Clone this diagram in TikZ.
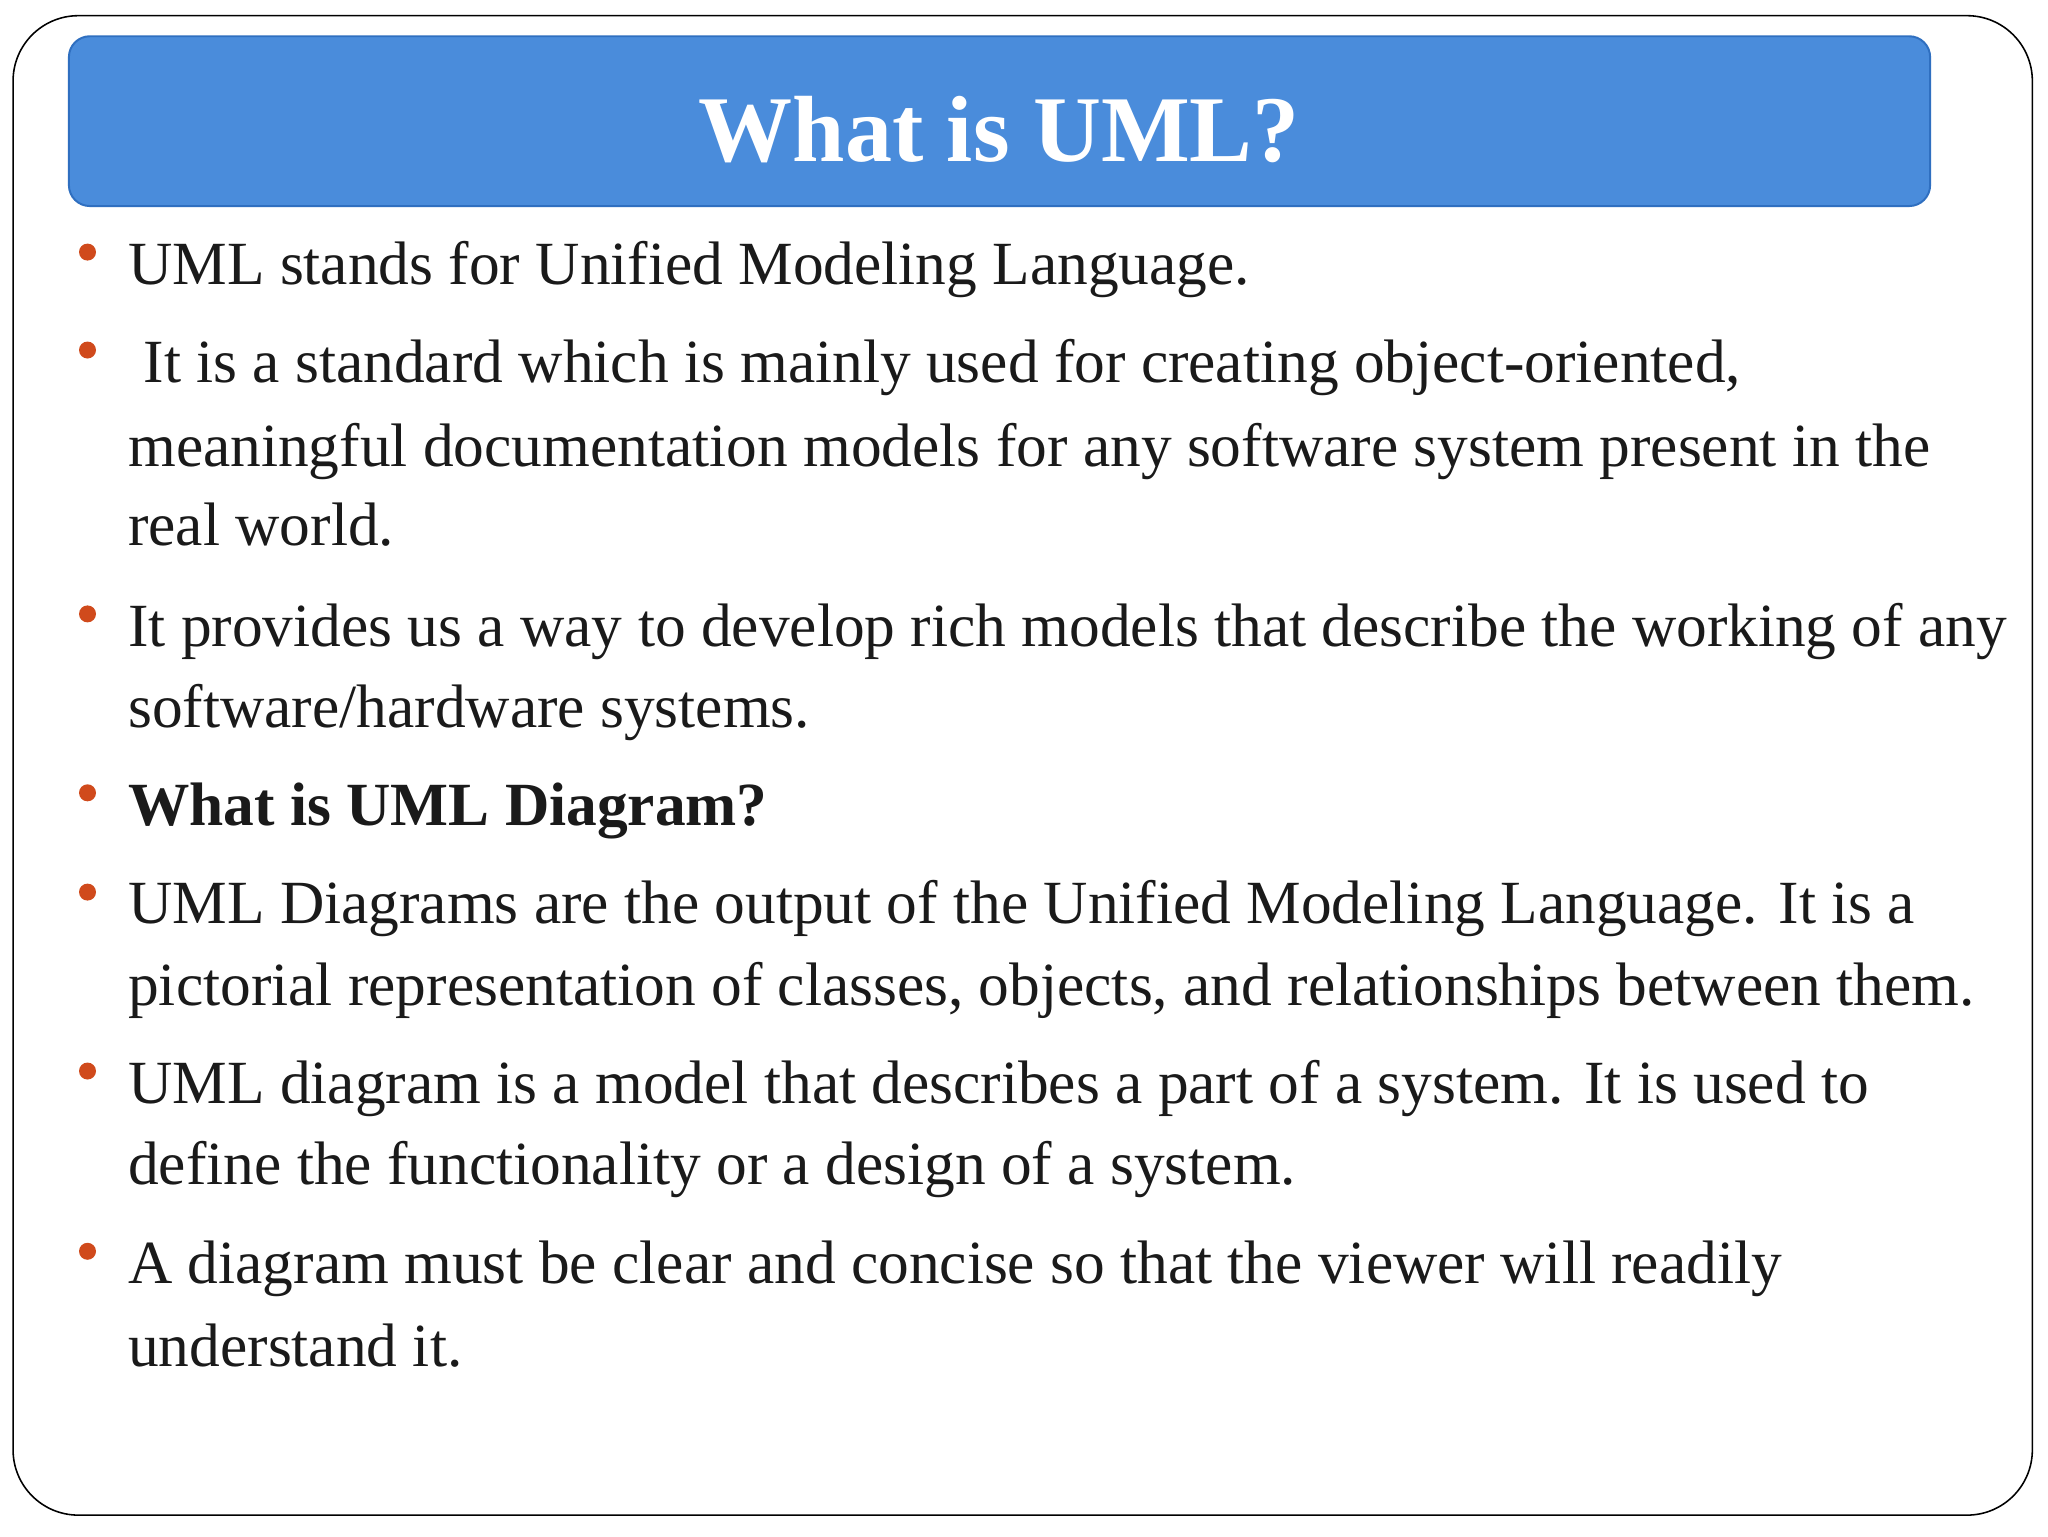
\documentclass[tikz,border=0pt]{standalone}
\usepackage{fontspec}
\setmainfont{Liberation Serif}
\definecolor{hdr}{HTML}{4A8CDB}
\definecolor{hdrb}{HTML}{2F6FC0}
\definecolor{bul}{HTML}{D04A1C}
\definecolor{txt}{HTML}{1A1A1A}
\tikzset{ln/.style={anchor=base west,inner sep=0pt,text=txt,font=\fontsize{47}{56}\selectfont},
bdot/.style={circle,fill=bul,minimum size=13pt,inner sep=0pt}}
\begin{document}
\begin{tikzpicture}[x=1pt,y=-1pt]
\useasboundingbox (0,0) rectangle (1568,1176);
\fill[white] (0,0) rectangle (1568,1176);
\draw[line width=1.2pt,rounded corners=50pt] (10,12) rectangle (1556,1160);
\node[draw=hdrb,fill=hdr,line width=1.5pt,rounded corners=16pt,minimum width=1425pt,minimum height=130pt,anchor=north west] (hd) at (52,27) {};
\node[anchor=base,text=white,font=\fontsize{72}{84}\selectfont\bfseries] (ttl) at (765,124) {What is UML?};
\foreach \y [count=\i] in {193,268,470,607,683,820,958} \node[bdot] (b\i) at (67,\y) {};
\node[ln] (l1) at (98,218) {UML stands for Unified Modeling Language.};
\node[ln] (l2) at (98,293) {\ It is a standard which is mainly used for creating object-oriented,};
\node[ln] (l3) at (98,357) {meaningful documentation models for any software system present in the};
\node[ln] (l4) at (98,418) {real world.};
\node[ln] (l5) at (98,495) {It provides us a way to develop rich models that describe the working of any};
\node[ln] (l6) at (98,557) {software/hardware systems.};
\node[ln,font=\fontsize{47}{56}\selectfont\bfseries] (l7) at (98,632) {What is UML Diagram?};
\node[ln] (l8) at (98,707) {UML Diagrams are the output of the Unified Modeling Language. It is a};
\node[ln] (l9) at (98,770) {pictorial representation of classes, objects, and relationships between them.};
\node[ln] (l10) at (98,845) {UML diagram is a model that describes a part of a system. It is used to};
\node[ln] (l11) at (98,907) {define the functionality or a design of a system.};
\node[ln] (l12) at (98,983) {A diagram must be clear and concise so that the viewer will readily};
\node[ln] (l13) at (98,1046) {understand it.};
\end{tikzpicture}
\end{document}
